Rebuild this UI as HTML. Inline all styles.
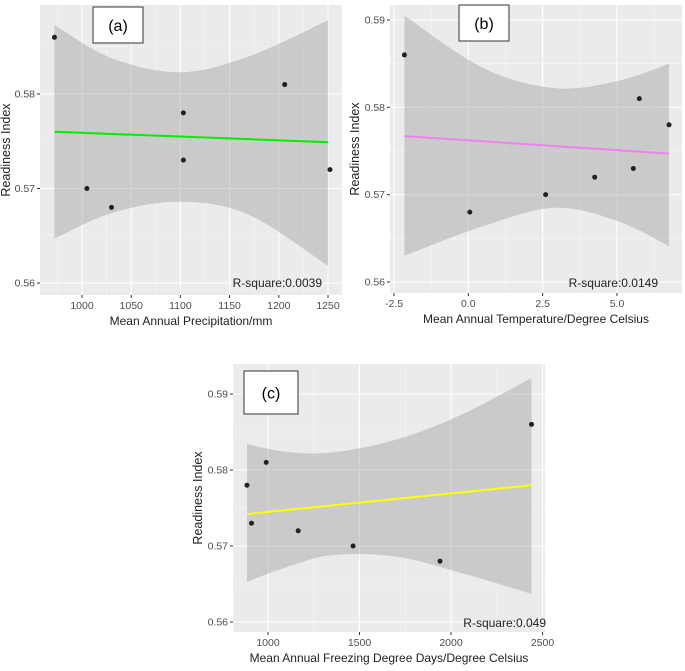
<!DOCTYPE html>
<html><head><meta charset="utf-8"><style>
html,body{margin:0;padding:0;background:#fff;}
svg{display:block;font-family:"Liberation Sans",sans-serif;}
</style></head><body>
<svg id="chart" width="685" height="671" viewBox="0 0 685 671"></svg>
<script>
// Panel (a)
const aX = [972, 1005, 1030, 1103, 1103, 1206, 1252];
const aY = [0.586, 0.570, 0.568, 0.578, 0.573, 0.581, 0.572];
const aFitX = [972, 1250];
const aFitY = [0.5760, 0.5749];
const aBandX = [972, 1030, 1100, 1170, 1250];
const aBandUp = [0.5873, 0.5838, 0.5823, 0.5840, 0.5878];
const aBandLo = [0.5647, 0.5674, 0.5686, 0.5672, 0.5618];
const aXTicks = [1000, 1050, 1100, 1150, 1200, 1250];
const aYTicks = [0.56, 0.57, 0.58];
// Panel (b)
const bX = [-2.15, 0.05, 2.6, 4.25, 5.55, 5.75, 6.75];
const bY = [0.586, 0.568, 0.570, 0.572, 0.573, 0.581, 0.578];
const bFitX = [-2.15, 6.75];
const bFitY = [0.5767, 0.5747];
const bBandX = [-2.15, 0.5, 2.9, 5.0, 6.75];
const bBandUp = [0.5905, 0.5845, 0.5822, 0.5830, 0.5850];
const bBandLo = [0.5630, 0.5664, 0.5685, 0.5670, 0.5641];
const bXTicks = [-2.5, 0.0, 2.5, 5.0];
const bXLabels = ["-2.5", "0.0", "2.5", "5.0"];
const bYTicks = [0.56, 0.57, 0.58, 0.59];
// Panel (c)
const cX = [885, 910, 990, 1165, 1465, 1940, 2440];
const cY = [0.578, 0.573, 0.581, 0.572, 0.570, 0.568, 0.586];
const cFitX = [885, 2440];
const cFitY = [0.5742, 0.5780];
const cBandX = [885, 1100, 1350, 1700, 2050, 2440];
const cBandUp = [0.5834, 0.5824, 0.5823, 0.5840, 0.5872, 0.5921];
const cBandLo = [0.5653, 0.5672, 0.5688, 0.5686, 0.5665, 0.5637];
const cXTicks = [1000, 1500, 2000, 2500];
const cYTicks = [0.56, 0.57, 0.58, 0.59];

const NS = "http://www.w3.org/2000/svg";
const svg = document.getElementById("chart");
function mk(tag, attrs, parent, text) {
  const e = document.createElementNS(NS, tag);
  for (const k in attrs) e.setAttribute(k, attrs[k]);
  if (text !== undefined) e.textContent = text;
  (parent || svg).appendChild(e);
  return e;
}
function linScale(d0, d1, r0, r1) { return v => r0 + (v - d0) / (d1 - d0) * (r1 - r0); }
function smoothPts(pts) {
  // Catmull-Rom densification
  const out = [];
  for (let i = 0; i < pts.length - 1; i++) {
    const p0 = pts[Math.max(0, i - 1)], p1 = pts[i], p2 = pts[i + 1], p3 = pts[Math.min(pts.length - 1, i + 2)];
    for (let t = 0; t < 1; t += 0.1) {
      const t2 = t * t, t3 = t2 * t;
      const f = (a, b, c, d) => 0.5 * ((2 * b) + (-a + c) * t + (2 * a - 5 * b + 4 * c - d) * t2 + (-a + 3 * b - 3 * c + d) * t3);
      out.push([f(p0[0], p1[0], p2[0], p3[0]), f(p0[1], p1[1], p2[1], p3[1])]);
    }
  }
  out.push(pts[pts.length - 1]);
  return out;
}

function panel(cfg) {
  const g = mk("g", {});
  
  
  const sx = linScale(cfg.xd[0], cfg.xd[1], cfg.xr[0], cfg.xr[1]);
  const sy = linScale(cfg.yd[0], cfg.yd[1], cfg.yr[0], cfg.yr[1]);
  const bg = mk("rect", {x: cfg.L, y: cfg.T, width: cfg.R - cfg.L, height: cfg.B - cfg.T, fill: "#ebebeb"}, g);
  
  
  // minor grid
  const xt = cfg.xTicks, yt = cfg.yTicks;
  const xstep = xt[1] - xt[0], ystep = yt[1] - yt[0];
  for (let v = xt[0] - xstep / 2; v <= xt[xt.length - 1] + xstep; v += xstep) {
    const px = sx(v); if (px > cfg.L && px < cfg.R) mk("line", {x1: px, x2: px, y1: cfg.T, y2: cfg.B, stroke: "#f6f6f6", "stroke-width": 0.6}, g);
  }
  for (let v = yt[0] - ystep / 2; v <= yt[yt.length - 1] + ystep; v += ystep) {
    const py = sy(v); if (py > cfg.T && py < cfg.B) mk("line", {x1: cfg.L, x2: cfg.R, y1: py, y2: py, stroke: "#f6f6f6", "stroke-width": 0.6}, g);
  }
  xt.forEach((v, i) => {
    const px = sx(v);
    mk("line", {x1: px, x2: px, y1: cfg.T, y2: cfg.B, stroke: "#fff", "stroke-width": 1.1}, g);
    mk("line", {x1: px, x2: px, y1: cfg.B, y2: cfg.B + 3, stroke: "#333", "stroke-width": 1}, g);
    const t = mk("text", {x: px, y: cfg.B + 14, "text-anchor": "middle", "font-size": 10.5, fill: "#4d4d4d"}, g, cfg.xLabels ? cfg.xLabels[i] : String(v));
    
    
  });
  yt.forEach(v => {
    const py = sy(v);
    mk("line", {x1: cfg.L, x2: cfg.R, y1: py, y2: py, stroke: "#fff", "stroke-width": 1.1}, g);
    mk("line", {x1: cfg.L - 3, x2: cfg.L, y1: py, y2: py, stroke: "#333", "stroke-width": 1}, g);
    const t = mk("text", {x: cfg.L - 5, y: py + 3.5, "text-anchor": "end", "font-size": 10.5, fill: "#4d4d4d"}, g, v.toFixed(2));
    
    
  });
  // band
  const up = smoothPts(cfg.bandX.map((x, i) => [sx(x), sy(cfg.bandUp[i])]));
  const lo = smoothPts(cfg.bandX.map((x, i) => [sx(x), sy(cfg.bandLo[i])])).reverse();
  const d = "M" + up.concat(lo).map(p => p[0].toFixed(1) + "," + p[1].toFixed(1)).join("L") + "Z";
  const band = mk("path", {d: d, fill: "#999", "fill-opacity": 0.4}, g);
  
  
  const fit = mk("line", {x1: sx(cfg.fitX[0]), y1: sy(cfg.fitY[0]), x2: sx(cfg.fitX[1]), y2: sy(cfg.fitY[1]), stroke: cfg.color, "stroke-width": 2}, g);
  
  
  cfg.px.forEach((x, i) => {
    const c = mk("circle", {cx: sx(x), cy: sy(cfg.py[i]), r: 2.5, fill: "#222"}, g);
    
    
  });
  const lb = mk("rect", {x: cfg.box[0], y: cfg.box[1], width: cfg.box[2], height: cfg.box[3], fill: "#fff", stroke: "#333", "stroke-width": 1}, g);
  
  
  const lt = mk("text", {x: cfg.box[0] + cfg.box[2] / 2, y: cfg.box[1] + cfg.box[3] / 2 + 6, "text-anchor": "middle", "font-size": 16, fill: "#000"}, g, cfg.label);
  
  
  const rs = mk("text", {x: cfg.rsq[0], y: cfg.rsq[1], "text-anchor": "end", "font-size": 12, fill: "#222"}, g, cfg.rsqText);
  
  
  const xtl = mk("text", {x: (cfg.L + cfg.R) / 2, y: cfg.B + 30, "text-anchor": "middle", "font-size": 12, fill: "#222"}, g, cfg.xTitle);
  
  
  const cy = (cfg.T + cfg.B) / 2;
  const ytl = mk("text", {x: cfg.yTitleX, y: cy, "text-anchor": "middle", "font-size": 12.5, fill: "#222", transform: "rotate(-90 " + cfg.yTitleX + " " + cy + ")"}, g, "Readiness Index");
  
  
}

panel({name: "panel-a", L: 40, R: 342, T: 5, B: 295, xd: [1000, 1250], xr: [82, 328], yd: [0.56, 0.58], yr: [283, 94],
  xTicks: aXTicks, yTicks: aYTicks, px: aX, py: aY, fitX: aFitX, fitY: aFitY, bandX: aBandX, bandUp: aBandUp, bandLo: aBandLo,
  color: "#00ee00", box: [93, 7, 50, 36], label: "(a)", rsq: [322, 287], rsqText: "R-square:0.0039", xTitle: "Mean Annual Precipitation/mm", yTitleX: 10});
panel({name: "panel-b", L: 390, R: 682, T: 5, B: 293, xd: [-2.5, 5.0], xr: [394, 617], yd: [0.56, 0.59], yr: [282, 20],
  xTicks: bXTicks, xLabels: bXLabels, yTicks: bYTicks, px: bX, py: bY, fitX: bFitX, fitY: bFitY, bandX: bBandX, bandUp: bBandUp, bandLo: bBandLo,
  color: "#ee82ee", box: [459, 5, 50, 36], label: "(b)", rsq: [658, 287], rsqText: "R-square:0.0149", xTitle: "Mean Annual Temperature/Degree Celsius", yTitleX: 359});
panel({name: "panel-c", L: 233, R: 545, T: 364, B: 632, xd: [1000, 2000], xr: [268, 451], yd: [0.56, 0.59], yr: [622, 394],
  xTicks: cXTicks, yTicks: cYTicks, px: cX, py: cY, fitX: cFitX, fitY: cFitY, bandX: cBandX, bandUp: cBandUp, bandLo: cBandLo,
  color: "#ffff00", box: [244, 371, 54, 43], label: "(c)", rsq: [546, 627], rsqText: "R-square:0.049", xTitle: "Mean Annual Freezing Degree Days/Degree Celsius", yTitleX: 202});
</script>
</body></html>
